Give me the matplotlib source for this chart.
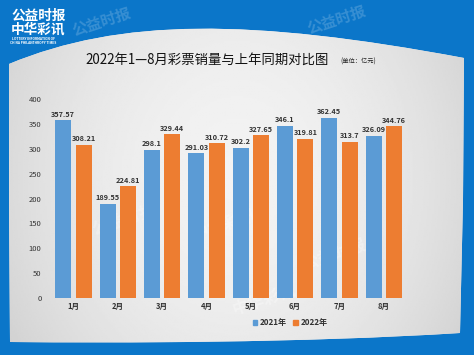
import numpy as np
import matplotlib
matplotlib.use("Agg")
import matplotlib.pyplot as plt
from matplotlib.path import Path
from matplotlib.patches import PathPatch, Patch

plt.rcParams['font.family'] = ['Noto Sans CJK SC', 'DejaVu Sans']

months = ["1月", "2月", "3月", "4月", "5月", "6月", "7月", "8月"]
sales_2021 = [357.57, 189.55, 298.1, 291.03, 302.2, 346.1, 362.45, 326.09]
sales_2022 = [308.21, 224.81, 329.44, 310.72, 327.65, 319.81, 313.7, 344.76]
series_names = ["2021年", "2022年"]
yticks = [0, 50, 100, 150, 200, 250, 300, 350, 400]
title = "2022年1—8月彩票销量与上年同期对比图"
unit = "(单位：亿元)"

W, H = 474, 355
fig = plt.figure(figsize=(W / 100, H / 100), dpi=100)
fig.patch.set_facecolor('#0b76c9')

# background axes in pixel coordinates
bg = fig.add_axes([0, 0, 1, 1])
bg.set_xlim(0, W)
bg.set_ylim(H, 0)
bg.axis('off')

# inner light panel with curved top/bottom
verts = [(9, 64), (120, 18), (250, 18), (464, 58),
         (463, 200), (460, 333),
         (300, 343), (120, 343), (10, 342),
         (9, 200), (9, 64)]
codes = [Path.MOVETO, Path.CURVE4, Path.CURVE4, Path.CURVE4,
         Path.LINETO, Path.LINETO,
         Path.CURVE4, Path.CURVE4, Path.CURVE4,
         Path.LINETO, Path.CLOSEPOLY]
panel_path = Path(verts, codes)
panel = PathPatch(panel_path, facecolor='#e6e6e6', edgecolor='none', zorder=1)
bg.add_patch(panel)
# gradient
gx = np.linspace(-1, 1, 300)
gy = np.linspace(-1, 1, 220)
GX, GY = np.meshgrid(gx, gy)
grad = 0.95 - 0.10 * (GX ** 2) - 0.04 * (GY ** 2)
im = bg.imshow(grad, extent=(0, W, H, 0), cmap='gray', vmin=0, vmax=1,
               zorder=2, aspect='auto')
im.set_clip_path(panel)

# logo
bg.text(11, 16, "公益时报", color='white', fontsize=9.8, fontweight='bold',
        va='center', ha='left', zorder=5)
bg.text(11, 30, "中华彩讯", color='white', fontsize=9.8, fontweight='bold',
        va='center', ha='left', zorder=5)
bg.text(12, 39, "LOTTERY INFORMATION OF", color='white', fontsize=2.4,
        fontweight='bold', va='center', ha='left', zorder=5)
bg.text(10, 43, "CHINA PHILANTHROPY TIMES", color='white', fontsize=2.4,
        fontweight='bold', va='center', ha='left', zorder=5)

# faint watermarks
for (x, y, s, a, fs) in [(70, 22, "公益时报", 0.18, 11),
                          (305, 20, "公益时报", 0.18, 11),
                          (90, 220, "公益时报", 0.25, 12),
                          (190, 225, "中华彩讯", 0.3, 12),
                          (300, 255, "公益时报", 0.3, 12),
                          (230, 300, "中华彩讯", 0.3, 12)]:
    bg.text(x, y, s, color='white', alpha=a, fontsize=fs, fontweight='bold',
            rotation=18, ha='left', va='center', zorder=3)

# title
bg.text(85, 60, title, fontsize=9.6, color='#111111', va='center',
        ha='left', zorder=5)
bg.text(340, 62, unit, fontsize=4.5, color='#222222', va='center',
        ha='left', zorder=5)

# main chart axes
left, right = 51.3 / W, 406 / W
bottom, top = (H - 298) / H, (H - 99) / H
ax = fig.add_axes([left, bottom, right - left, top - bottom])
ax.patch.set_alpha(0)
ax.set_zorder(4)

x = np.arange(len(months))
bw = 0.36
off = 0.23
c1, c2 = '#5b9bd5', '#ed7d31'
b1 = ax.bar(x - off, sales_2021, bw, color=c1, label=series_names[0])
b2 = ax.bar(x + off, sales_2022, bw, color=c2, label=series_names[1])
for bars, vals in [(b1, sales_2021), (b2, sales_2022)]:
    for r, v in zip(bars, vals):
        ax.text(r.get_x() + r.get_width() / 2, v + 5, f"{v:g}",
                ha='center', va='bottom', fontsize=5.3, fontweight='bold',
                color='#333333')

ax.set_xlim(-0.5, len(months) - 0.5)
ax.set_ylim(0, 400)
ax.set_yticks(yticks)
ax.set_yticklabels([str(t) for t in yticks])
ax.set_xticks(x)
ax.set_xticklabels(months)
ax.tick_params(axis='both', length=0, labelsize=5.5, colors='#333333')
ax.tick_params(axis='y', pad=7)
ax.tick_params(axis='x', pad=3)
for lab in ax.get_xticklabels():
    lab.set_fontweight('bold')
for s in ax.spines.values():
    s.set_visible(False)

handles = [Patch(color=c1, label=series_names[0]),
           Patch(color=c2, label=series_names[1])]
leg = fig.legend(handles=handles, loc='center', bbox_to_anchor=(290 / W, 1 - 323 / H),
                 ncol=2, frameon=False, handlelength=0.6,
                 handleheight=0.6, handletextpad=0.3, columnspacing=0.8,
                 prop={'weight': 'bold', 'size': 5.8})
for t in leg.get_texts():
    t.set_color('#333333')

fig.savefig("out.png", dpi=100, facecolor=fig.get_facecolor())
